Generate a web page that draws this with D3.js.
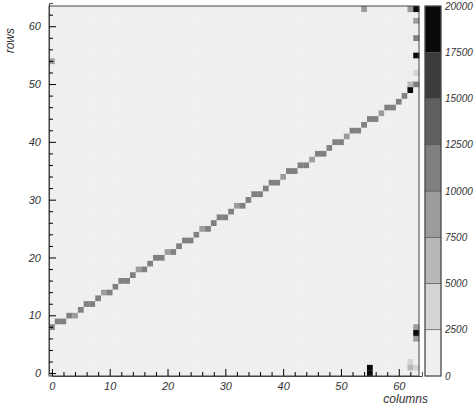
<!DOCTYPE html>
<html><head><meta charset="utf-8">
<script src="https://cdn.jsdelivr.net/npm/d3@7"></script>
<style>body{margin:0;background:#fff}text{font-family:"Liberation Sans",Arial,sans-serif;font-style:italic;fill:#333}</style>
</head><body><div id="chart"></div>
<script>
const nCols = 64, nRows = 64;
const background = 1100;
// row of the diagonal band in each column (col 0..63)
const diagRows = [8,9,9,10,10,11,12,12,13,14,14,15,16,16,17,18,18,19,20,20,21,21,22,23,23,24,25,25,26,27,27,28,29,29,30,31,31,32,33,33,34,35,35,36,36,37,38,38,39,40,40,41,42,42,43,44,44,45,46,46,47,48,49,50];
const diagValues = [11000,10500,10000,11000,9500,10500,11000,10000,10500,9500,11000,10500,10000,10500,11000,9500,10500,11000,10000,10500,9500,11000,10500,10000,11000,10500,9500,10500,11000,10000,10500,11000,9500,10500,10000,11000,10500,10000,10500,11000,9500,10500,11000,10000,10500,9500,11000,10500,10000,11000,10500,9500,10500,11000,10000,10500,11000,9500,10500,10000,11000,12000,20000,10000];
// isolated hot cells [col, row, value]
const hotCells = [
  [55,0,20000],[55,1,20000],[62,1,6000],[62,2,4000],[63,1,3000],
  [63,6,9000],[63,7,20000],[63,8,8000],
  [63,63,20000],[62,63,9000],[54,63,9000],[63,61,9000],[63,58,10000],
  [63,55,20000],[63,52,4000],[0,54,8000],[62,50,5000]
];
const barTicks = [0,2500,5000,7500,10000,12500,15000,17500,20000];

const W = 474, H = 404;
const x0 = 49, x1 = 419, y0 = 6, y1 = 376;
const svg = d3.select("#chart").append("svg").attr("width", W).attr("height", H);

const x = d3.scaleLinear().domain([0, nCols]).range([x0, x1]);
const y = d3.scaleLinear().domain([0, nRows]).range([y1, y0]);
const grays = ["#efefef","#d4d4d4","#b8b8b8","#9c9c9c","#808080","#606060","#3c3c3c","#0a0a0a"];
const color = d3.scaleQuantize().domain([0, 20000]).range(grays);

const cells = [];
for (let c = 0; c < nCols; c++) for (let r = 0; r < nRows; r++) cells.push({c, r, v: background});
const idx = (c, r) => c * nRows + r;
diagRows.forEach((r, c) => { cells[idx(c, r)].v = diagValues[c]; });
hotCells.forEach(([c, r, v]) => { cells[idx(c, r)].v = v; });

svg.append("g").selectAll("rect").data(cells).enter().append("rect")
  .attr("x", d => x(d.c)).attr("y", d => y(d.r + 1))
  .attr("width", x(1) - x(0) + 0.3).attr("height", y(0) - y(1) + 0.3)
  .attr("fill", d => color(d.v));

svg.append("rect").attr("x", x0).attr("y", y0).attr("width", x1 - x0).attr("height", y1 - y0)
  .attr("fill", "none").attr("stroke", "#444").attr("stroke-width", 1);

const xc = d3.scaleLinear().domain([0, 64]).range([x0 + 2.9, x1 + 2.9]);
const yc = d3.scaleLinear().domain([0, 64]).range([y1 - 2.9, y0 - 2.9]);
const xAxis = svg.append("g").attr("transform", `translate(0,${y1})`)
  .call(d3.axisTop(xc).tickValues(d3.range(0, 64, 2)).tickSize(4).tickFormat(""));
xAxis.selectAll(".tick line").attr("y2", (d) => d % 10 === 0 ? -7 : -4);
svg.append("g").attr("transform", `translate(0,${y1})`)
  .call(d3.axisBottom(xc).tickValues(d3.range(0, 61, 10)).tickSize(0).tickPadding(6))
  .call(g => g.select(".domain").remove()).selectAll("text").style("font-size", "11px");
const yAxis = svg.append("g").attr("transform", `translate(${x0},0)`)
  .call(d3.axisRight(yc).tickValues(d3.range(0, 64, 2)).tickSize(4).tickFormat(""));
yAxis.selectAll(".tick line").attr("x2", (d) => d % 10 === 0 ? 7 : 4);
svg.append("g").attr("transform", `translate(${x0},0)`)
  .call(d3.axisLeft(yc).tickValues(d3.range(0, 61, 10)).tickSize(0).tickPadding(8))
  .call(g => g.select(".domain").remove()).selectAll("text").style("font-size", "11px");
svg.selectAll(".domain").attr("stroke", "#444");

svg.append("text").attr("transform", "translate(14,28) rotate(-90)").attr("text-anchor", "end")
  .style("font-size", "12px").text("rows");
svg.append("text").attr("x", 428).attr("y", 403).attr("text-anchor", "end")
  .style("font-size", "12px").text("columns");

// colour bar
const bx = 425, bw = 16;
const yb = d3.scaleLinear().domain([0, 20000]).range([y1, y0]);
svg.append("g").selectAll("rect").data(grays).enter().append("rect")
  .attr("x", bx).attr("width", bw)
  .attr("y", (g, i) => yb((i + 1) * 2500)).attr("height", yb(0) - yb(2500))
  .attr("fill", g => g).attr("stroke", "#555").attr("stroke-width", 0.6);
svg.append("rect").attr("x", bx).attr("y", y0).attr("width", bw).attr("height", y1 - y0)
  .attr("fill", "none").attr("stroke", "#444");
svg.append("g").attr("transform", `translate(${bx + bw},0)`)
  .call(d3.axisRight(yb).tickValues(barTicks).tickSize(0).tickPadding(4).tickFormat(d3.format("d")))
  .call(g => g.select(".domain").remove()).selectAll("text").style("font-size", "10px");
</script></body></html>
